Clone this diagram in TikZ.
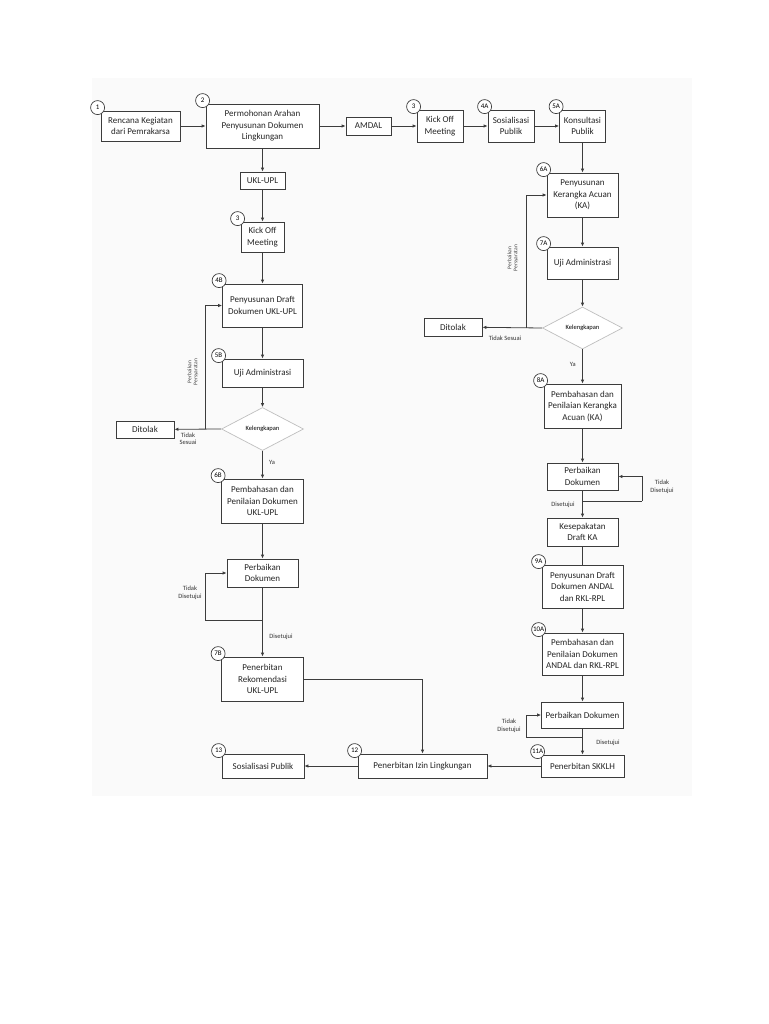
\documentclass[tikz,border=0pt]{standalone}
\usepackage{fontspec}
\setmainfont{Carlito}
\usetikzlibrary{shapes.geometric,arrows.meta,positioning}
\definecolor{ln}{RGB}{60,60,60}
\definecolor{bg}{RGB}{250,250,250}
\begin{document}
\begin{tikzpicture}[x=1pt,y=-1pt,
  box/.style={draw=ln,line width=0.8pt,fill=white,align=center,inner sep=1pt,font=\fontsize{9}{11.5}\selectfont,text=black!85},
  num/.style={circle,draw=ln,line width=0.7pt,fill=white,minimum size=14pt,inner sep=0pt,font=\fontsize{7}{8}\selectfont},
  dia/.style={diamond,draw=black!25,line width=0.7pt,fill=white,inner sep=0pt,font=\fontsize{6.5}{7}\selectfont},
  lbl/.style={align=center,font=\fontsize{6.5}{7.5}\selectfont,text=black!80},
  tiny/.style={align=center,font=\fontsize{5.5}{6}\selectfont,text=black!75},
  arr/.style={draw=ln,line width=0.8pt,-{Latex[length=4pt,width=3.5pt]}},
  con/.style={draw=ln,line width=0.8pt}
]
\useasboundingbox (0,0) rectangle (768,1024);
\fill[bg] (92,78) rectangle (692,796);

% top row
\node[box,minimum width=79pt,minimum height=30pt] (n1) at (140.5,126) {Rencana Kegiatan\\dari Pemrakarsa};
\node[box,minimum width=113pt,minimum height=44pt] (n2) at (262.5,126) {Permohonan Arahan\\Penyusunan Dokumen\\Lingkungan};
\node[box,minimum width=45pt,minimum height=18pt] (amdal) at (368.5,126) {AMDAL};
\node[box,minimum width=46pt,minimum height=32pt] (k3a) at (440,126) {Kick Off\\Meeting};
\node[box,minimum width=46pt,minimum height=32pt] (s4a) at (511,126) {Sosialisasi\\Publik};
\node[box,minimum width=46pt,minimum height=32pt] (k5a) at (582.5,126) {Konsultasi\\Publik};

% right column
\node[box,minimum width=71pt,minimum height=44pt] (a6) at (582.5,195) {Penyusunan\\Kerangka Acuan\\(KA)};
\node[box,minimum width=71pt,minimum height=32pt] (a7) at (582.5,263) {Uji Administrasi};
\node[dia,minimum width=80pt,minimum height=42pt] (da) at (582.5,328) {Kelengkapan};
\node[box,minimum width=58pt,minimum height=18pt] (dita) at (453,327) {Ditolak};
\node[box,minimum width=77pt,minimum height=44pt] (a8) at (582.5,406) {Pembahasan dan\\Penilaian Kerangka\\Acuan (KA)};
\node[box,minimum width=71pt,minimum height=27pt] (pda) at (582.5,476.5) {Perbaikan\\Dokumen};
\node[box,minimum width=71pt,minimum height=28pt] (kes) at (582.5,532) {Kesepakatan\\Draft KA};
\node[box,minimum width=81pt,minimum height=43pt] (a9) at (582.5,586.5) {Penyusunan Draft\\Dokumen ANDAL\\dan RKL-RPL};
\node[box,minimum width=81pt,minimum height=42pt] (a10) at (582.5,654) {Pembahasan dan\\Penilaian Dokumen\\ANDAL dan RKL-RPL};
\node[box,minimum width=82pt,minimum height=26pt] (pdc) at (582.5,715) {Perbaikan Dokumen};
\node[box,minimum width=83pt,minimum height=22pt] (sk) at (582.5,766) {Penerbitan SKKLH};

% bottom
\node[box,minimum width=129pt,minimum height=24pt] (n12) at (422.5,766) {Penerbitan Izin Lingkungan};
\node[box,minimum width=82pt,minimum height=24pt] (n13) at (263,766) {Sosialisasi Publik};

% left column
\node[box,minimum width=45pt,minimum height=17pt] (ukl) at (262.5,180.5) {UKL-UPL};
\node[box,minimum width=43pt,minimum height=30pt] (k3b) at (262.5,237) {Kick Off\\Meeting};
\node[box,minimum width=80pt,minimum height=43pt] (b4) at (262.5,305.5) {Penyusunan Draft\\Dokumen UKL-UPL};
\node[box,minimum width=81pt,minimum height=28pt] (b5) at (262.5,373) {Uji Administrasi};
\node[dia,minimum width=82pt,minimum height=43pt] (db) at (262.5,429) {Kelengkapan};
\node[box,minimum width=58pt,minimum height=17pt] (ditb) at (145,429.5) {Ditolak};
\node[box,minimum width=82pt,minimum height=44pt] (b6) at (262.5,501) {Pembahasan dan\\Penilaian Dokumen\\UKL-UPL};
\node[box,minimum width=71pt,minimum height=28pt] (pdb) at (262.5,573) {Perbaikan\\Dokumen};
\node[box,minimum width=82pt,minimum height=44pt] (b7) at (262.5,679) {Penerbitan\\Rekomendasi\\UKL-UPL};

% numbers
\foreach \b/\t in {n1/1,n2/2,k3a/3,s4a/4A,k5a/5A,a6/6A,a7/7A,a8/8A,a9/9A,a10/10A,sk/11A,n12/12,n13/13,k3b/3,b4/4B,b5/5B,b6/6B,b7/7B}
  \node[num] (c\b) at ([shift={(-3,-3)}]\b.north west) {\t};

% coordinates
\coordinate (ja) at (526,328);
\coordinate (jb) at (205,429);
\coordinate (la1) at (582.5,501);
\coordinate (la2) at (642,501);
\coordinate (lc1) at (582.5,737);
\coordinate (lc2) at (526,737);
\coordinate (lb1) at (262.5,620);
\coordinate (lb2) at (205,620);
\coordinate (tb) at (422.5,679);

% top connectors
\draw[arr] (n1) -- (n2);
\draw[arr] (n2) -- (amdal);
\draw[arr] (amdal) -- (k3a);
\draw[arr] (k3a) -- (s4a);
\draw[arr] (s4a) -- (k5a);
\draw[arr] (k5a) -- (a6);

% right column
\draw[arr] (a6) -- (a7);
\draw[arr] (a7) -- (da);
\draw[arr] (da) -- node[lbl,left=3pt,pos=0.45] {Ya} (a8);
\draw[arr] (da.west) -- (dita);
\draw[arr] (ja) |- (a6.west);
\draw[arr] (a8) -- (pda);
\draw[arr] (pda) -- (kes);
\draw[con] (la1) -- (la2);
\draw[arr] (la2) |- (pda.east);
\draw[con] (kes) -- (a9);
\draw[arr] (a9) -- (a10);
\draw[arr] (a10) -- (pdc);
\draw[arr] (pdc) -- (sk);
\draw[con] (lc1) -- (lc2);
\draw[arr] (lc2) |- (pdc.west);
\draw[arr] (sk) -- (n12);
\draw[arr] (n12) -- (n13);

% left column
\draw[arr] (n2) -- (ukl);
\draw[arr] (ukl) -- (k3b);
\draw[arr] (k3b) -- (b4);
\draw[arr] (b4) -- (b5);
\draw[arr] (b5) -- (db);
\draw[arr] (db) -- node[lbl,right=3pt,pos=0.4] {Ya} (b6);
\draw[arr] (db.west) -- (ditb);
\draw[arr] (jb) |- (b4.west);
\draw[arr] (b6) -- (pdb);
\draw[arr] (pdb) -- (b7);
\draw[con] (lb1) -- (lb2);
\draw[arr] (lb2) |- (pdb.west);
\draw[con] (b7.east) -- (tb);
\draw[arr] (tb) -- (n12);

% labels
\node[lbl] at (505,338) {Tidak Sesuai};
\node[lbl] at (188,439) {Tidak\\Sesuai};
\node[tiny,rotate=90] at (513,258) {Perbaikan\\Persyaratan};
\node[tiny,rotate=90] at (193,372) {Perbaikan\\Persyaratan};
\node[lbl] at (662,487) {Tidak\\Disetujui};
\node[lbl] at (563,505) {Disetujui};
\node[lbl] at (190,593) {Tidak\\Disetujui};
\node[lbl] at (281,637) {Disetujui};
\node[lbl] at (509,726) {Tidak\\Disetujui};
\node[lbl] at (608,743) {Disetujui};
\end{tikzpicture}
\end{document}
